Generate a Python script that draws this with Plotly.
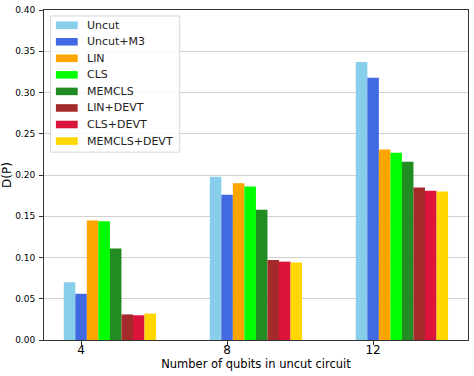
import plotly.graph_objects as go

qubits = ["4", "8", "12"]
series_names = ["Uncut", "Uncut+M3", "LIN", "CLS", "MEMCLS", "LIN+DEVT", "CLS+DEVT", "MEMCLS+DEVT"]
uncut = [0.070, 0.198, 0.337]
uncut_m3 = [0.056, 0.176, 0.318]
lin = [0.145, 0.190, 0.231]
cls = [0.144, 0.186, 0.227]
memcls = [0.111, 0.158, 0.216]
lin_devt = [0.031, 0.097, 0.185]
cls_devt = [0.030, 0.095, 0.181]
memcls_devt = [0.032, 0.094, 0.180]
colors = ["#87CEEB", "#4169E1", "#FFA500", "#00FF00", "#228B22", "#A52A2A", "#DC143C", "#FFD700"]

all_values = [uncut, uncut_m3, lin, cls, memcls, lin_devt, cls_devt, memcls_devt]
positions = list(range(len(qubits)))
w = 0.079

W, H = 474, 376
ML, MR, MT, MB = 41, 5, 8, 36
PW, PH = W - ML - MR, H - MT - MB


def px_x(px):
    return (px - ML) / PW


def px_y(py):
    return (H - MB - py) / PH


FONT = "DejaVu Sans"
fig = go.Figure()
for i, (name, vals, col) in enumerate(zip(series_names, all_values, colors)):
    fig.add_trace(go.Bar(
        x=positions, y=vals, name=name,
        width=w, offset=(i - 1) * w - w / 2,
        marker=dict(color=col, line=dict(width=0)),
        showlegend=False,
    ))

# matplotlib-style legend box drawn in the upper-left of the plot area
shapes = [dict(
    type="rect", xref="paper", yref="paper",
    x0=px_x(47.5), x1=px_x(178), y0=px_y(151), y1=px_y(14),
    fillcolor="rgba(255,255,255,0.85)", line=dict(color="#d6d6d6", width=1), layer="above",
)]
annotations = []
for i, (name, col) in enumerate(zip(series_names, colors)):
    yc = 23.3 + i * 16.65
    shapes.append(dict(
        type="rect", xref="paper", yref="paper",
        x0=px_x(53), x1=px_x(75), y0=px_y(yc + 3.8), y1=px_y(yc - 3.8),
        fillcolor=col, line=dict(width=0), layer="above",
    ))
    annotations.append(dict(
        text=name, xref="paper", yref="paper", x=px_x(82), y=px_y(yc),
        xanchor="left", yanchor="middle", showarrow=False,
        font=dict(family=FONT, size=11, color="#222"),
    ))

fig.update_layout(
    width=W, height=H,
    margin=dict(l=ML, r=MR, t=MT, b=MB),
    barmode="overlay",
    plot_bgcolor="white", paper_bgcolor="white",
    font=dict(family=FONT, color="#000"),
    showlegend=False,
    shapes=shapes, annotations=annotations,
    xaxis=dict(
        range=[-0.254, 2.65],
        tickvals=positions, ticktext=qubits,
        tickfont=dict(size=12), ticks="outside", ticklen=4, tickcolor="#333",
        ticklabelstandoff=-5,
        showgrid=False, zeroline=False,
        showline=True, linecolor="#333", linewidth=1, mirror=True,
        title=dict(text="Number of qubits in uncut circuit", font=dict(size=11.5), standoff=0),
    ),
    yaxis=dict(
        range=[0, 0.40],
        tickvals=[0, 0.05, 0.10, 0.15, 0.20, 0.25, 0.30, 0.35, 0.40],
        tickformat=".2f",
        tickfont=dict(size=9), ticks="outside", ticklen=4, tickcolor="#333",
        ticklabelstandoff=2,
        showgrid=True, gridcolor="#d0d0d0", gridwidth=1,
        zeroline=False,
        showline=True, linecolor="#333", linewidth=1, mirror=True,
        title=dict(text="D(P)", font=dict(size=12), standoff=2),
    ),
)

fig.write_html(
    "out.html",
    config={"displayModeBar": False},
    post_script="document.body.style.margin='0';document.body.style.padding='0';",
)
